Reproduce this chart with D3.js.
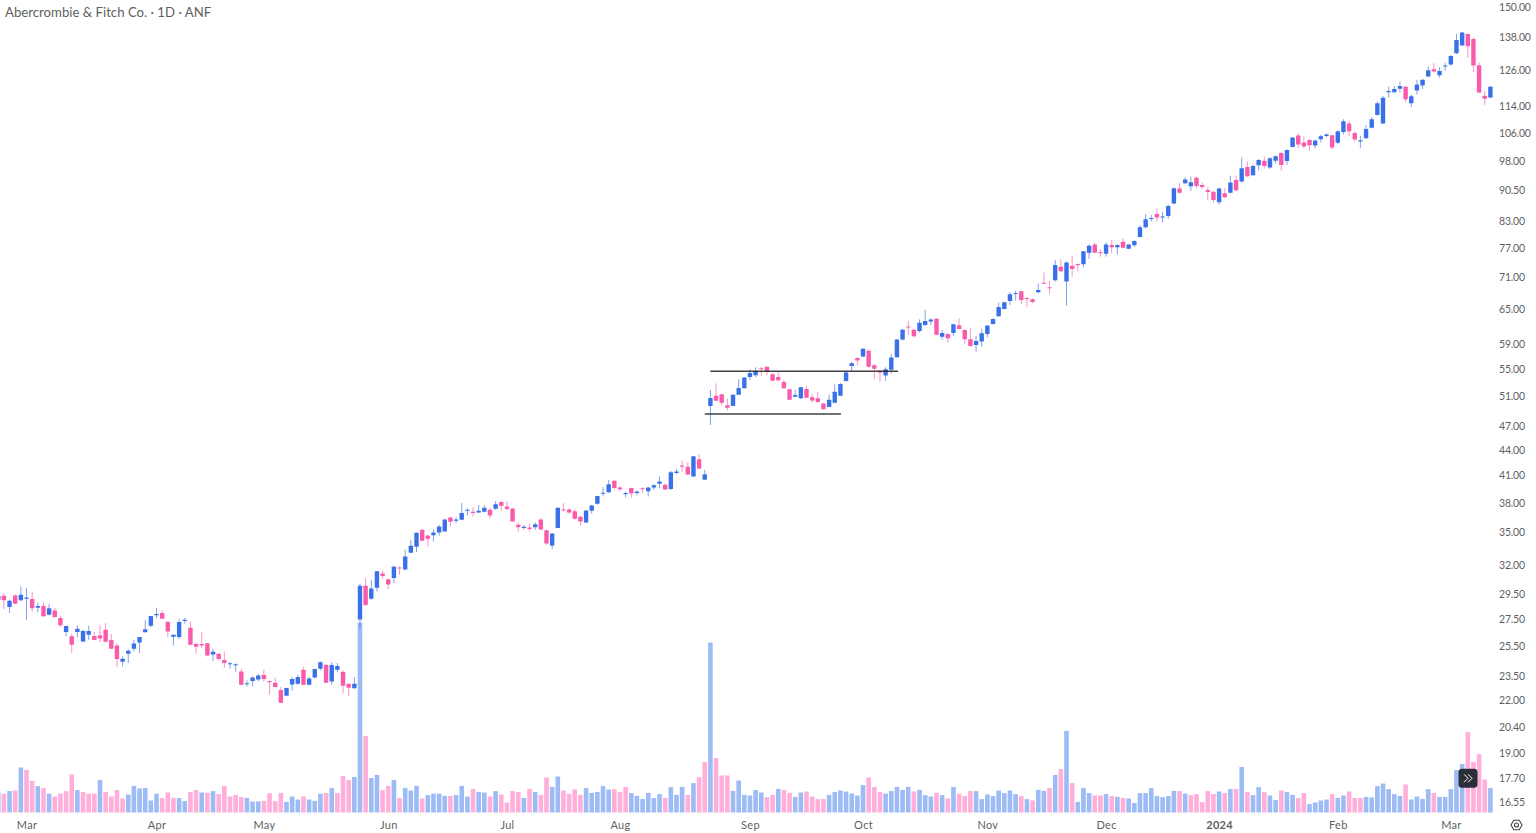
<!DOCTYPE html>
<html><head><meta charset="utf-8">
<script src="https://cdn.jsdelivr.net/npm/d3@7/dist/d3.min.js"></script>
<style>
html,body{margin:0;padding:0;background:#fff;overflow:hidden}
svg{display:block}
text{font-family:Lato,"Open Sans",sans-serif;fill:#555}
</style></head><body>
<svg id="c" width="1536" height="833"></svg>
<script>
const title = "Abercrombie & Fitch Co. · 1D · ANF";
const high = [
29.53,29.53,29.0,29.45,30.09,29.95,29.67,28.79,28.79,28.68,
28.33,27.74,26.98,26.39,27.01,26.69,26.98,26.52,27.06,27.19,
26.37,25.71,24.78,25.29,25.95,26.15,27.39,27.74,28.33,28.15,
27.36,26.32,27.49,27.56,27.29,25.66,26.49,25.71,25.31,24.99,
25.13,24.39,24.31,23.95,23.19,23.44,23.6,23.88,23.16,23.38,
22.78,22.72,23.4,23.55,24.06,23.4,23.95,24.44,24.22,24.39,
24.33,23.82,22.97,23.4,30.31,30.79,30.65,31.39,31.45,30.73,
31.89,31.8,33.31,34.23,34.94,35.27,34.72,35.27,35.69,36.26,
36.53,36.43,37.9,37.38,37.48,37.73,37.69,37.41,38.13,38.13,
38.13,37.38,35.95,35.69,35.85,35.95,36.36,35.2,34.88,37.45,
37.9,37.38,37.28,36.6,37.18,37.73,38.68,39.62,40.44,40.36,
39.77,39.14,39.58,39.25,39.62,39.62,39.99,40.81,40.06,41.45,
41.65,42.66,42.43,43.21,43.41,41.57,51.87,52.83,51.3,50.68,
51.25,53.43,53.73,54.93,55.23,55.33,55.33,54.33,54.58,53.33,
52.02,51.87,52.35,52.45,51.3,51.63,50.03,51.2,52.69,52.88,
54.73,56.06,56.8,58.22,58.06,55.7,54.83,55.23,57.32,59.7,
61.44,62.87,61.44,63.08,64.76,63.27,63.27,61.26,60.69,62.3,
63.27,61.38,61.55,60.25,61.44,62.07,63.27,66.09,66.27,67.96,
68.33,68.27,67.07,66.89,69.72,71.83,70.18,74.4,74.54,74.06,
75.21,73.7,76.26,77.67,78.03,76.62,78.1,78.62,77.67,79.0,
77.67,78.54,81.96,84.43,84.27,85.83,84.97,86.8,91.0,92.01,
93.54,93.71,93.71,92.18,91.0,90.06,90.91,90.73,93.98,93.98,
98.88,97.7,96.99,98.42,99.07,98.88,99.35,100.28,101.11,104.54,
105.71,104.72,103.96,103.77,105.22,105.71,105.22,106.5,109.88,109.47,
106.2,104.92,108.13,110.5,115.39,117.24,120.28,120.51,121.99,120.62,
117.67,122.56,122.78,127.16,128.35,126.92,128.6,131.32,139.2,139.99,
139.47,137.79,128.6,118.87,120.51];
const low = [
28.73,28.25,27.95,28.68,28.87,27.44,28.07,28.0,27.64,27.77,
27.59,26.86,26.2,25.01,26.12,25.78,25.95,25.9,25.76,25.76,
25.29,24.06,24.11,24.33,25.13,25.01,26.49,26.88,27.56,27.49,
26.15,25.55,26.0,27.13,25.57,24.97,25.36,24.78,24.48,24.51,
24.0,23.95,23.73,22.85,22.8,22.8,23.12,23.12,22.28,22.74,
21.77,22.22,22.55,22.89,22.89,22.87,23.33,23.84,23.02,22.91,
23.71,22.34,22.22,22.66,26.8,28.47,29.0,29.67,30.76,29.86,
30.36,31.07,31.51,33.0,33.09,34.11,33.61,34.08,34.62,35.01,
35.53,35.85,36.19,36.63,36.53,36.87,36.94,36.33,37.21,37.14,
37.14,36.02,35.04,35.2,35.04,35.2,35.2,33.77,33.37,35.37,
37.04,36.8,36.19,35.62,35.85,36.8,37.76,38.61,38.97,39.39,
39.14,38.5,38.47,38.72,39.04,38.61,39.32,39.51,39.32,39.32,
41.07,41.37,40.99,40.81,41.68,40.44,47.07,50.35,49.71,48.98,
49.62,51.15,52.11,53.33,53.73,53.93,54.08,53.18,53.08,52.02,
50.44,50.87,50.58,50.73,50.08,50.08,49.16,49.48,49.98,51.01,
53.08,54.58,55.49,56.8,55.18,53.48,53.08,53.18,54.33,56.74,
59.48,60.42,60.03,60.8,61.95,62.12,60.42,59.59,59.16,60.25,
61.38,58.94,58.5,57.69,58.5,60.03,62.18,63.56,64.83,65.67,
66.45,65.85,65.25,65.97,67.83,69.59,67.7,70.05,71.83,65.55,
71.0,72.01,72.89,74.58,75.77,75.07,75.07,75.77,75.56,76.83,
76.69,77.18,79.13,81.2,82.73,82.73,82.5,83.35,86.8,89.47,
91.84,90.06,90.73,90.57,87.85,87.21,86.72,88.34,89.47,90.06,
92.18,93.71,93.98,95.31,95.84,95.75,97.25,95.31,96.81,101.67,
101.41,101.41,100.75,101.41,103.02,104.53,101.13,102.64,105.31,104.72,
103.3,101.5,104.06,107.2,111.02,108.47,116.7,118.33,118.33,115.07,
113.61,117.67,119.5,123.47,125.17,123.35,125.74,127.52,131.68,134.79,
130.37,125.17,118.11,114.33,116.49];
const open = [
28.95,29.32,28.41,29.34,28.95,29.08,29.05,28.36,28.49,27.82,
28.15,27.56,26.52,26.2,26.52,25.83,26.32,26.22,26.27,26.69,
25.93,25.55,24.42,24.97,25.31,25.76,26.49,26.98,27.77,27.95,
27.26,26.17,26.15,27.34,26.83,25.66,25.64,25.71,24.92,24.97,
24.53,24.24,24.2,23.77,22.95,23.14,23.25,23.53,23.14,23.04,
22.57,22.22,22.93,22.97,23.88,22.91,23.38,23.95,24.22,23.12,
23.88,23.75,22.97,22.68,27.46,30.14,29.08,29.97,31.18,30.7,
30.79,31.71,31.54,33.03,33.58,35.2,34.65,34.68,34.94,35.04,
36.43,36.09,36.19,37.11,37.01,36.94,37.01,37.21,37.31,38.02,
37.55,37.35,35.69,35.37,35.43,35.46,36.22,35.17,33.71,35.37,
37.24,37.24,37.07,36.5,35.92,37.11,37.83,38.93,39.07,40.33,
39.58,38.86,39.54,38.97,39.51,39.18,39.58,39.99,39.88,39.43,
41.22,42.07,41.92,40.81,42.82,40.44,49.62,51.05,51.25,49.71,
49.62,51.2,52.11,53.78,54.03,55.08,55.33,54.18,53.78,53.03,
51.97,50.92,50.68,52.02,50.82,50.68,49.98,49.48,50.08,51.05,
53.18,55.43,56.69,56.9,57.85,55.54,54.73,53.98,54.88,56.8,
59.65,61.84,61.32,61.09,62.12,62.7,63.21,60.14,60.58,60.75,
62.07,61.26,59.7,58.77,59.32,60.58,62.3,63.62,64.95,66.39,
67.77,68.21,66.95,66.7,68.02,69.85,68.96,70.31,73.02,70.05,
73.22,73.56,73.49,75.91,77.67,75.98,75.7,77.53,77.04,78.25,
76.76,77.46,79.28,81.42,83.35,84.5,83.73,84.04,86.97,90.66,
92.01,91.25,93.46,91.59,90.32,89.89,87.29,89.47,89.64,92.85,
92.44,96.28,94.06,96.72,97.96,96.1,97.96,100.09,97.87,101.77,
105.02,103.02,103.77,102.17,103.96,104.92,105.12,102.92,106.1,108.56,
105.8,103.3,104.25,107.29,111.22,108.56,118.44,118.44,119.6,120.28,
114.85,118.98,120.62,123.69,126.2,124.15,127.16,127.87,131.92,134.79,
139.2,137.29,127.64,117.24,116.7];
const close = [
29.32,28.95,28.92,28.68,29.4,29.18,28.33,28.49,27.69,28.33,
27.64,27.01,26.96,25.59,26.76,26.59,26.59,25.93,26.05,25.81,
25.31,24.6,24.62,25.18,25.69,26.15,26.71,27.72,27.87,27.51,
26.56,26.32,27.26,27.44,25.59,25.45,25.55,24.85,25.11,24.6,
24.33,24.31,24.24,22.91,23.0,23.38,23.5,23.27,23.06,22.76,
21.79,22.7,23.27,23.4,22.91,23.31,23.93,24.39,23.04,24.2,
24.13,22.85,22.72,22.97,30.14,28.57,29.91,31.39,30.96,30.25,
31.77,31.62,32.69,33.68,34.91,34.14,34.33,34.94,35.53,36.22,
35.99,36.22,36.87,37.21,36.87,37.11,37.41,36.63,37.79,37.62,
37.28,36.02,35.46,35.5,35.27,35.75,35.24,33.89,34.85,37.41,
37.14,36.94,36.29,36.02,37.14,37.66,38.65,39.0,39.95,39.54,
39.39,38.97,38.93,39.14,39.39,39.58,39.84,40.25,39.36,41.29,
41.37,41.92,41.03,43.17,41.72,41.07,50.73,50.35,50.08,49.39,
51.2,52.16,53.68,54.38,54.68,54.93,54.53,53.23,53.28,52.11,
50.49,51.15,52.26,50.77,50.39,50.17,49.16,50.49,51.63,52.73,
54.43,55.85,56.27,58.17,55.33,55.03,54.43,54.93,56.74,59.65,
61.32,61.67,60.2,62.48,62.81,63.08,60.47,60.75,59.87,62.24,
61.44,59.7,58.61,59.43,60.69,62.01,63.16,65.31,66.15,67.64,
67.89,66.57,66.76,66.21,68.46,69.72,68.83,73.37,72.1,73.85,
72.55,73.29,76.19,77.39,75.91,75.77,77.67,77.04,77.53,76.97,
77.67,78.4,81.42,83.27,83.58,83.66,83.89,86.4,90.73,89.64,
92.95,92.27,91.33,91.08,89.81,87.85,90.66,88.5,92.18,90.23,
95.93,93.8,96.55,98.14,96.55,98.6,99.16,96.81,100.93,104.44,
102.45,101.88,102.26,103.58,104.82,105.31,101.6,106.3,109.27,106.3,
103.87,103.68,106.95,109.88,114.85,116.6,118.87,119.5,120.51,116.15,
117.13,120.96,122.56,125.86,125.4,125.63,127.52,130.97,136.91,139.73,
134.54,127.52,118.33,116.27,120.28];
const volume = [
1.0,.94,1.07,1.1,2.25,2.13,1.58,1.32,1.22,.94,
.8,.94,1.07,1.9,1.12,1.03,.94,.94,1.62,1.03,
.8,1.13,.7,.9,1.33,1.2,1.23,.6,.94,.72,
1.0,.73,.72,.57,1.03,1.13,1.0,.98,1.07,.92,
1.32,.8,.88,.77,.73,.55,.55,.58,.97,.57,
.98,.53,.8,.65,.8,.65,.58,.94,.97,1.22,
.97,1.83,1.62,1.78,9.5,3.83,1.72,1.88,1.12,1.33,
1.63,.72,1.23,1.1,1.33,.7,.87,.94,.94,.83,
.83,.87,1.33,.8,1.18,1.02,1.0,.8,1.07,.9,
.5,1.07,1.02,.73,1.18,1.03,.88,1.75,1.28,1.8,
1.1,.94,1.15,.88,1.22,.98,1.03,1.32,1.15,1.17,
1.03,1.28,.97,.83,.68,.98,.72,.92,.73,1.27,
.88,1.28,.88,1.47,1.77,2.52,8.5,2.72,1.85,1.85,
1.08,1.6,.88,.85,1.12,1.0,.77,.88,1.18,1.12,
.98,.78,1.0,1.05,.8,.67,.68,.88,1.02,1.1,
1.05,.95,.85,1.37,1.75,1.28,1.03,.94,1.07,1.28,
1.13,1.28,1.05,1.13,.87,.8,.98,.87,.7,1.27,
.94,.83,1.07,1.07,.67,.9,.82,1.1,.97,1.1,
.92,.83,.67,.6,1.13,1.08,1.23,1.88,2.17,4.08,
1.47,.53,1.22,.97,.85,.85,.92,.82,.78,.73,
.7,.48,.97,.97,1.22,.82,.77,.82,1.08,1.07,
.95,.87,.92,.52,1.07,.92,1.05,.97,1.17,1.18,
2.28,1.02,.87,1.27,1.02,.85,.62,1.1,1.02,.88,
.72,.97,.42,.5,.6,.65,.92,.73,.85,1.05,
.73,.72,.78,.75,1.32,1.45,1.17,.92,.83,1.4,
.65,.8,.68,1.17,.98,.78,.78,1.17,2.12,2.42,
4.02,2.53,2.92,1.65,1.22];
const volumeDir = [
"udududdudu","ddddudddud","ddduuuuuud","dduuddudud","dddduuuddd",
"duuuduuudu","ddduuduudd","uduuuduuuu","duuuduudud","dddududduu",
"dddduuuuud","dduuuuuudu","uududduddd","uuuuuuddud","duudddduuu",
"uuuuddduuu","uuduuududu","ddduuuuuuu","ududuududu","duuuddudud",
"uuuuuuuuud","udddddudud","uduuduuduu","dduuuuduud","dduuuuuuud",
"uuuuduuuuu","ddddu"].join("");
const priceTicks = [150,138,126,114,106,98,90.5,83,77,71,65,59,55,51,47,44,41,38,35,32,29.5,27.5,25.5,23.5,22,20.4,19,17.7,16.55];
const timeTicks = [5,28,47,69,90,110,133,153,175,196,216,237,257];
const timeLabels = ["Mar","Apr","May","Jun","Jul","Aug","Sep","Oct","Nov","Dec","2024","Feb","Mar"];
// hand-drawn horizontal levels: [start bar, end bar, price]
const levelStart = [126, 125];
const levelEnd = [159.2, 149.1];
const levelPrice = [54.63, 48.52];

const UP = "#3a70e8", DOWN = "#f95aa9", VUP = "#9dbbf5", VDOWN = "#ffafd9";
const svg = d3.select("#c");
const x = d3.scaleLinear().domain([0, 264]).range([-1.75, 1490.4]);
const y = d3.scaleLog().domain([150, 16.55]).range([7, 802]);
const v = d3.scaleLinear().domain([0, 10]).range([812.5, 612.5]);
const idx = d3.range(high.length);

svg.append("g").selectAll("rect").data(idx).join("rect")
  .attr("x", i => x(i) - 2.3).attr("width", 4.6)
  .attr("y", i => v(volume[i])).attr("height", i => v(0) - v(volume[i]))
  .attr("fill", i => volumeDir[i] === "u" ? VUP : VDOWN);

const col = i => close[i] >= open[i] ? UP : DOWN;
svg.append("g").selectAll("line").data(idx).join("line")
  .attr("x1", i => x(i)).attr("x2", i => x(i))
  .attr("y1", i => y(high[i])).attr("y2", i => y(low[i]))
  .attr("stroke", col).attr("stroke-width", 1).attr("stroke-opacity", .65);
svg.append("g").selectAll("rect").data(idx).join("rect")
  .attr("x", i => x(i) - 2.2).attr("width", 4.4)
  .attr("y", i => y(Math.max(open[i], close[i])))
  .attr("height", i => Math.max(1, y(Math.min(open[i], close[i])) - y(Math.max(open[i], close[i]))))
  .attr("rx", .5)
  .attr("fill", col);

svg.append("g").selectAll("line").data(levelPrice).join("line")
  .attr("x1", (d, i) => x(levelStart[i])).attr("x2", (d, i) => x(levelEnd[i]))
  .attr("y1", d => y(d)).attr("y2", d => y(d))
  .attr("stroke", "#222").attr("stroke-opacity", .85).attr("stroke-width", 1.4);

const labelFont = "Lato,'Open Sans',sans-serif";
const yAxis = d3.axisRight(y).tickValues(priceTicks).tickSize(0).tickPadding(0).tickFormat(d3.format(".2f"));
const gy = svg.append("g").attr("transform", "translate(1499,0.5)").call(yAxis);
gy.select(".domain").remove();
gy.selectAll("text").style("font-family", labelFont).style("font-size", "10.5px").style("fill", "#5f5f5f").style("letter-spacing", "-.2px");

const xAxis = d3.axisBottom(x).tickValues(timeTicks).tickSize(0).tickPadding(0).tickFormat((d, i) => timeLabels[i]);
const gx = svg.append("g").attr("transform", "translate(0,823)").call(xAxis);
gx.select(".domain").remove();
gx.selectAll("text").style("font-family", labelFont).style("font-size", "11px").style("fill", "#5f5f5f").style("letter-spacing", ".3px")
  .attr("dy", ".5em")
  .style("font-weight", d => d === 216 ? 700 : 400);

svg.append("text").attr("x", 5).attr("y", 17).attr("font-size", 13.2).style("fill", "#5f5f5f").text(title);

// "scroll to latest" button
const b = svg.append("g").attr("transform", "translate(1468,778.3)");
b.append("rect").attr("x", -9.5).attr("y", -9.5).attr("width", 19).attr("height", 19).attr("rx", 3.5).attr("fill", "#2a2e39");
b.append("path").attr("d", "M-4,-4 L0,0 L-4,4 M0,-4 L4,0 L0,4").attr("fill", "none").attr("stroke", "#fff").attr("stroke-width", 1);

// settings icon
const s = svg.append("g").attr("transform", "translate(1516.5,825)");
s.append("path").attr("d", "M-5.5,0 L-2.75,-4.7 L2.75,-4.7 L5.5,0 L2.75,4.7 L-2.75,4.7 Z").attr("fill", "none").attr("stroke", "#444").attr("stroke-width", 1.1);
s.append("circle").attr("r", 2).attr("fill", "none").attr("stroke", "#444").attr("stroke-width", 1.1);
</script>
</body></html>
